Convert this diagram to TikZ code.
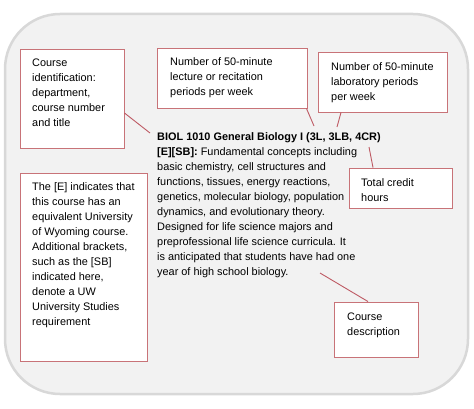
\documentclass[tikz,border=0pt]{standalone}
\usepackage{fontspec}
\setmainfont{Liberation Sans}
\usetikzlibrary{calc}
\definecolor{boxred}{RGB}{200,115,120}
\definecolor{linered}{RGB}{190,90,100}
\definecolor{panelfill}{RGB}{242,242,242}
\definecolor{paneldraw}{RGB}{216,216,216}
\tikzset{
  boxst/.style={draw=boxred, line width=0.9pt, fill=white, rectangle, inner sep=0pt},
  txt/.style={anchor=north west, inner sep=0pt, align=left, font=\fontsize{10.9}{15}\selectfont},
  conn/.style={draw=linered, line width=0.9pt},
}
\begin{document}
\begin{tikzpicture}[x=1pt,y=-1pt]
\fill[white] (0,0) rectangle (474,409);
\useasboundingbox (0,0) rectangle (474,409);
\draw[draw=paneldraw, fill=panelfill, line width=2.5pt, rounded corners=55pt] (5,14) rectangle (468,394);

% boxes
\node[boxst, minimum width=104pt, minimum height=99pt] (b1) at (72,98.5) {};
\node[boxst, minimum width=150pt, minimum height=60pt] (b2) at (232,78) {};
\node[boxst, minimum width=129pt, minimum height=60pt] (b3) at (382.5,82) {};
\node[boxst, minimum width=103pt, minimum height=40pt] (b4) at (400.5,188) {};
\node[boxst, minimum width=127pt, minimum height=188pt] (b5) at (83.5,267) {};
\node[boxst, minimum width=84pt, minimum height=55pt] (b6) at (376,329.5) {};

% texts
\node[txt] (t1) at (32,58.5) {Course\\identification:\\department,\\course number\\and title};
\node[txt] (t2) at (170,57.5) {Number of 50-minute\\lecture or recitation\\periods per week};
\node[txt] (t3) at (331,62.5) {Number of 50-minute\\laboratory periods\\per week};
\node[txt] (t4) at (361,178.5) {Total credit\\hours};
\node[txt] (t5) at (32,182.5) {The [E] indicates that\\this course has an\\equivalent University\\of Wyoming course.\\Additional brackets,\\such as the [SB]\\indicated here,\\denote a UW\\University Studies\\requirement};
\node[txt] (t6) at (347,312.5) {Course\\description};
\node[txt] (main) at (157,132.5) {\textbf{BIOL 1010 General Biology I (3L, 3LB, 4CR)}\\
\textbf{[E][SB]:} Fundamental concepts including\\
basic chemistry, cell structures and\\
functions, tissues, energy reactions,\\
genetics, molecular biology, population\\
dynamics, and evolutionary theory.\\
Designed for life science majors and\\
preprofessional life science curricula. It\\
is anticipated that students have had one\\
year of high school biology.};

% connector ends
\coordinate (e1) at (150,133);
\coordinate (e2) at (314,126);
\coordinate (e3) at (337,127);
\coordinate (e4) at (369,147);
\coordinate (e5) at (320,273);

\draw[conn] ([yshift=-14.5pt]b1.east) -- (e1);
\draw[conn] ([xshift=-1pt]b2.south east) -- (e2);
\draw[conn] ([xshift=-41.5pt]b3.south) -- (e3);
\draw[conn] ([xshift=-27.5pt]b4.north) -- (e4);
\draw[conn] ([xshift=-8pt]b6.north) -- (e5);
\end{tikzpicture}
\end{document}
